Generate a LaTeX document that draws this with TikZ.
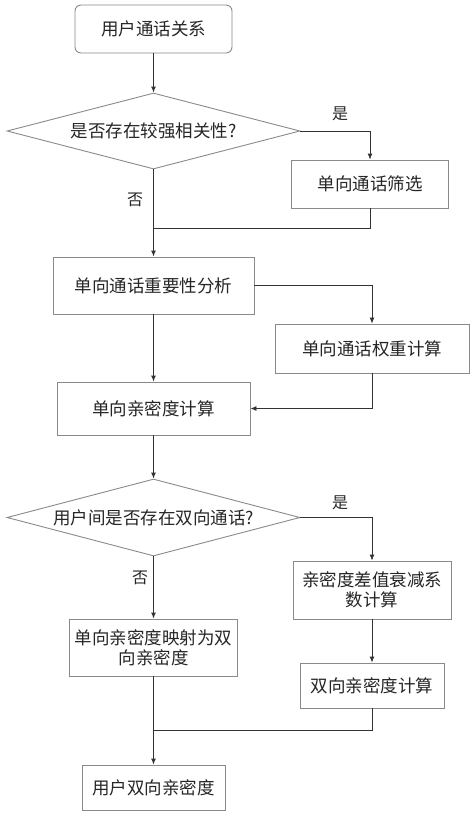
\documentclass[tikz,border=0pt]{standalone}
\usepackage{fontspec}
\setmainfont{Noto Sans CJK SC}
\usetikzlibrary{shapes.geometric,arrows.meta}
\definecolor{boxgray}{HTML}{8A8A8A}
\definecolor{linegray}{HTML}{333333}
\begin{document}
\begin{tikzpicture}[x=1pt,y=1pt,
  every node/.style={font=\fontsize{17.5}{20}\selectfont, text=black!85},
  procbox/.style={draw=boxgray, line width=0.9pt, rectangle, inner sep=0pt, align=center},
  startbox/.style={procbox, rounded corners=6pt},
  decision/.style={draw=boxgray, line width=0.9pt, diamond, aspect=3.86, inner sep=0pt},
  conn/.style={draw=linegray, line width=0.9pt},
  arr/.style={conn, -{Latex[length=6pt,width=5pt]}},
  lbl/.style={font=\fontsize{16}{18}\selectfont}
]
\useasboundingbox (0,0) rectangle (474,-815);
\fill[white] (0,0) rectangle (474,-815);

\node[startbox, minimum width=157pt, minimum height=48pt] (start) at (153.5,-29) {用户通话关系};
\node[decision, minimum width=293pt, minimum height=76pt] (d1) at (153.5,-131) {是否存在较强相关性?};
\node[procbox, minimum width=157pt, minimum height=48pt] (filter) at (370,-184) {单向通话筛选};
\node[procbox, minimum width=201pt, minimum height=57pt] (imp) at (153.5,-285.5) {单向通话重要性分析};
\node[procbox, minimum width=194pt, minimum height=49pt] (weight) at (372,-348.5) {单向通话权重计算};
\node[procbox, minimum width=193pt, minimum height=53pt] (uni) at (153.5,-408.5) {单向亲密度计算};
\node[decision, minimum width=293pt, minimum height=77pt] (d2) at (153.5,-517.5) {用户间是否存在双向通话?};
\node[procbox, minimum width=158pt, minimum height=58pt] (decay) at (372,-590) {亲密度差值衰减系\\数计算};
\node[procbox, minimum width=144pt, minimum height=45pt] (bi) at (372,-685.5) {双向亲密度计算};
\node[procbox, minimum width=168pt, minimum height=57pt] (map) at (153.5,-647.5) {单向亲密度映射为双\\向亲密度};
\node[procbox, minimum width=143pt, minimum height=45pt] (final) at (153.5,-787.5) {用户双向亲密度};

\node[lbl] (yes1) at (340,-114) {是};
\node[lbl] (no1) at (135,-200) {否};
\node[lbl] (yes2) at (340,-503) {是};
\node[lbl] (no2) at (140,-578) {否};

\coordinate (m1) at (153.5,-228);
\coordinate (m2) at (153.5,-730);

\draw[arr] (start) -- (d1);
\draw[arr] (d1.east) -| (filter.north);
\draw[arr] (d1.south) -- (imp.north);
\draw[conn] (filter.south) |- (m1);
\draw[arr] (imp.east) -| (weight.north);
\draw[arr] (imp.south) -- (uni.north);
\draw[arr] (weight.south) |- (uni.east);
\draw[arr] (uni.south) -- (d2.north);
\draw[arr] (d2.east) -| (decay.north);
\draw[arr] (decay.south) -- (bi.north);
\draw[arr] (d2.south) -- (map.north);
\draw[arr] (map.south) -- (final.north);
\draw[conn] (bi.south) |- (m2);
\end{tikzpicture}
\end{document}
